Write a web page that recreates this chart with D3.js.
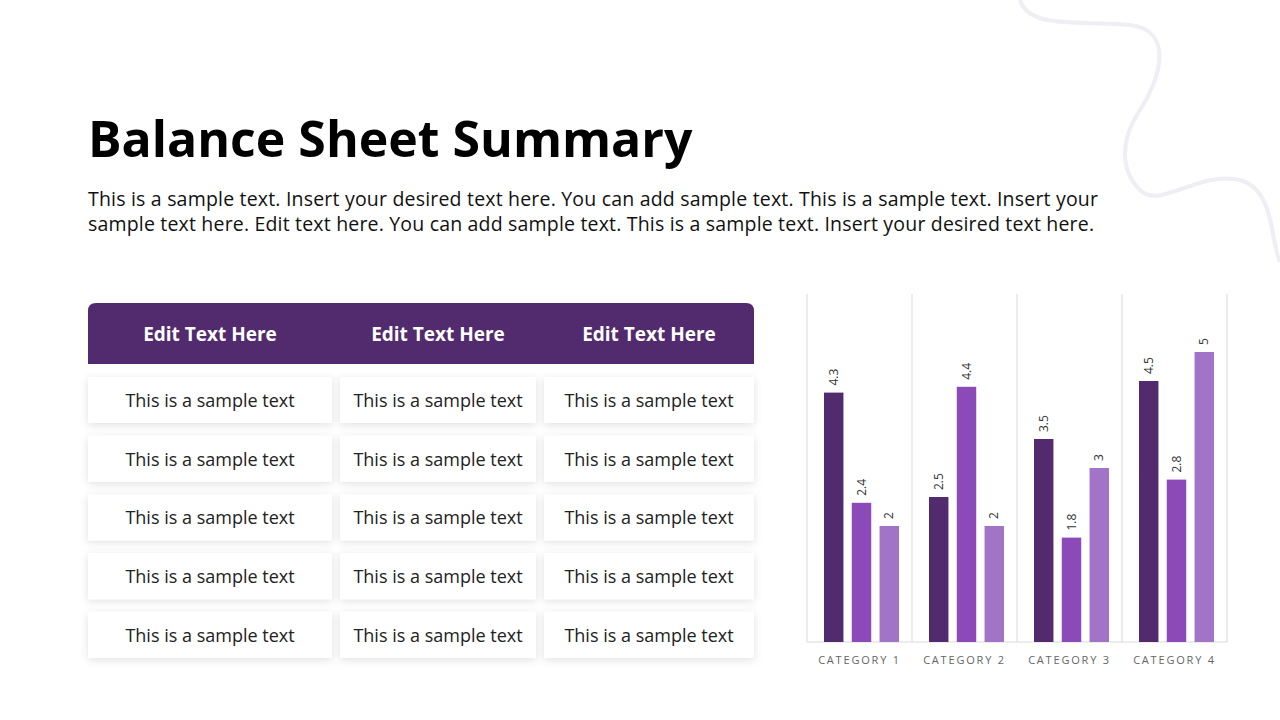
<!DOCTYPE html><html><head><meta charset="utf-8"><script src="https://cdn.jsdelivr.net/npm/d3@7"></script>
<style>body{margin:0;background:#fff}svg{display:block}</style></head><body><svg id="c" width="1280" height="720"></svg>
<script>
const categories=["CATEGORY 1","CATEGORY 2","CATEGORY 3","CATEGORY 4"];
const series1=[4.3,2.5,3.5,4.5];
const series2=[2.4,4.4,1.8,2.8];
const series3=[2,2,3,5];
const colors=["#522a6e","#8b4ab8","#a274c8"];
const headers=["Edit Text Here","Edit Text Here","Edit Text Here"];
const cellText="This is a sample text";
const rowCount=5;

const svg=d3.select("#c");
const defs=svg.append("defs");
const f=defs.append("filter").attr("id","sh").attr("x","-20%").attr("y","-50%").attr("width","140%").attr("height","200%");
f.append("feDropShadow").attr("dx",0).attr("dy",2).attr("stdDeviation",4).attr("flood-color","#000").attr("flood-opacity",0.12);

svg.append("path").attr("d","M1020,0 C1030,30 1080,20 1130,25 C1175,30 1160,80 1140,110 C1120,140 1120,170 1140,190 C1160,210 1200,170 1240,180 C1275,190 1270,240 1280,262")
 .attr("fill","none").attr("stroke","#eeeef4").attr("stroke-width",4);

const font="'Open Sans', 'Noto Sans', sans-serif";
svg.append("text").attr("x",88).attr("y",157).attr("font-family",font).attr("font-weight",700).attr("font-size",50).attr("fill","#000").text("Balance Sheet Summary");
const para=["This is a sample text. Insert your desired text here. You can add sample text. This is a sample text. Insert your","sample text here. Edit text here. You can add sample text. This is a sample text. Insert your desired text here."];
para.forEach((t,i)=>svg.append("text").attr("x",88).attr("y",206+i*25).attr("font-family",font).attr("font-size",19.5).attr("fill","#111").attr("textLength",i==0?1010:1006).text(t));

// table
const hx=88,hw=666,hy=303,hh=61,r=8;
svg.append("path").attr("d",`M${hx},${hy+hh} V${hy+r} Q${hx},${hy} ${hx+r},${hy} H${hx+hw-r} Q${hx+hw},${hy} ${hx+hw},${hy+r} V${hy+hh} Z`).attr("fill","#522a6e");
const cols=[[88,244],[340,196],[544,210]];
headers.forEach((h,i)=>svg.append("text").attr("x",cols[i][0]+cols[i][1]/2).attr("y",hy+hh/2+7).attr("text-anchor","middle").attr("font-family",font).attr("font-weight",700).attr("font-size",19).attr("fill","#fff").text(h));
const rowY=d3.range(rowCount).map(i=>377+i*58.7);
rowY.forEach(y=>cols.forEach(c=>{
 svg.append("rect").attr("x",c[0]).attr("y",y).attr("width",c[1]).attr("height",46).attr("fill","#fff").attr("filter","url(#sh)");
 svg.append("text").attr("x",c[0]+c[1]/2).attr("y",y+30).attr("text-anchor","middle").attr("font-family",font).attr("font-size",18).attr("fill","#222").text(cellText);
}));

// chart
const x0=807,x1=1227,yTop=294,yBot=642;
const x=d3.scaleBand().domain(categories).range([x0,x1]);
const y=d3.scaleLinear().domain([0,6]).range([yBot,yTop]);
const xs=d3.scaleBand().domain([0,1,2]).range([17,92]).paddingInner(0.3);
const g=svg.append("g");
[x0,...categories.map(c=>x(c)+x.bandwidth())].forEach(v=>g.append("line").attr("x1",v).attr("x2",v).attr("y1",yTop).attr("y2",yBot).attr("stroke","#d9d9d9"));
g.append("line").attr("x1",x0).attr("x2",x1).attr("y1",yBot).attr("y2",yBot).attr("stroke","#d9d9d9");
const all=[series1,series2,series3];
all.forEach((s,si)=>s.forEach((v,ci)=>{
 const bx=x(categories[ci])+xs(si);
 g.append("rect").attr("x",bx).attr("y",y(v)).attr("width",xs.bandwidth()).attr("height",yBot-y(v)).attr("fill",colors[si]);
 g.append("text").attr("transform",`translate(${bx+xs.bandwidth()/2+4},${y(v)-7}) rotate(-90)`).attr("font-family",font).attr("font-size",12).attr("fill","#333").text(v);
}));
categories.forEach(c=>g.append("text").attr("x",x(c)+x.bandwidth()/2).attr("y",664).attr("text-anchor","middle").attr("font-family",font).attr("font-size",11).attr("letter-spacing",1.8).attr("fill","#666").text(c));
</script></body></html>
